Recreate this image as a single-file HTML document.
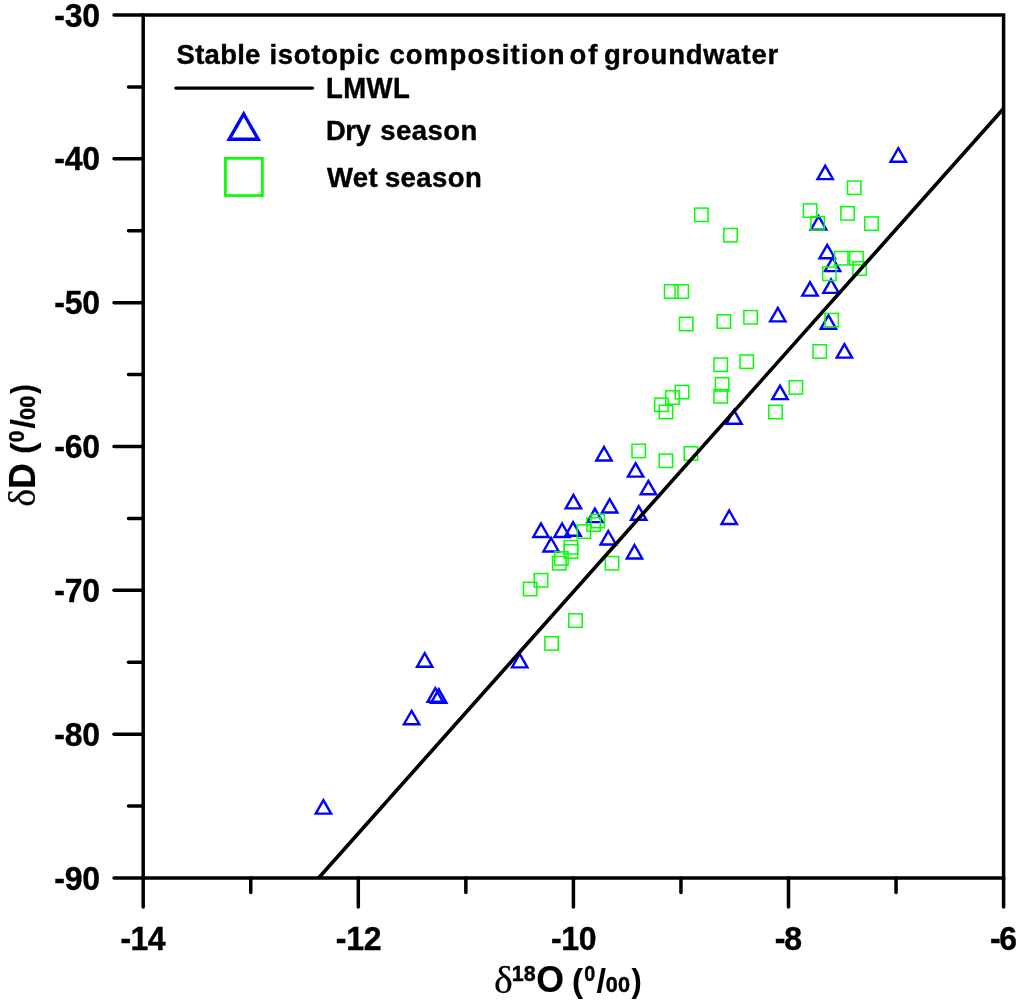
<!DOCTYPE html>
<html><head><meta charset="utf-8"><title>Stable isotopic composition of groundwater</title>
<style>
html,body{margin:0;padding:0;background:#fff;}
svg{display:block;}
text{font-family:"Liberation Sans",Arial,sans-serif;font-weight:bold;fill:#000;stroke:#000;stroke-width:0.4px;}
.ns{stroke-width:0.1px;}
.ser{font-family:"Liberation Serif","DejaVu Serif",serif;font-weight:normal;stroke-width:0.25px;}
</style></head><body>
<svg width="1024" height="1007" viewBox="0 0 1024 1007">
<rect width="1024" height="1007" fill="#fff"/>

<g stroke="#000" stroke-width="3.5" stroke-linecap="round" fill="none">
<path d="M143.2 15.0H1003.6V878.0H143.2Z" stroke-linejoin="miter"/>
<path d="M143.2 15.00H114"/>
<path d="M143.2 86.92H128.5"/>
<path d="M143.2 158.83H114"/>
<path d="M143.2 230.75H128.5"/>
<path d="M143.2 302.67H114"/>
<path d="M143.2 374.58H128.5"/>
<path d="M143.2 446.50H114"/>
<path d="M143.2 518.42H128.5"/>
<path d="M143.2 590.33H114"/>
<path d="M143.2 662.25H128.5"/>
<path d="M143.2 734.17H114"/>
<path d="M143.2 806.08H128.5"/>
<path d="M143.2 878.00H114"/>
<path d="M143.20 878.0V907"/>
<path d="M250.75 878.0V892.5"/>
<path d="M358.30 878.0V907"/>
<path d="M465.85 878.0V892.5"/>
<path d="M573.40 878.0V907"/>
<path d="M680.95 878.0V892.5"/>
<path d="M788.50 878.0V907"/>
<path d="M896.05 878.0V892.5"/>
<path d="M1003.60 878.0V907"/>
</g>
<g fill="none" stroke="#0000ff" stroke-width="2.4" stroke-linejoin="miter">
<path d="M323.4 800.1L331.1 813.6H315.7Z"/>
<path d="M411.6 710.8L419.3 724.2H403.9Z"/>
<path d="M435.3 688.2L443.0 701.8H427.6Z"/>
<path d="M438.8 689.2L446.4 702.8H431.1Z"/>
<path d="M424.7 653.2L432.4 666.8H417.0Z"/>
<path d="M519.7 653.9L527.4 667.4H512.0Z"/>
<path d="M573.4 494.9L581.1 508.4H565.7Z"/>
<path d="M609.7 499.1L617.4 512.5H602.0Z"/>
<path d="M648.4 480.8L656.1 494.2H640.7Z"/>
<path d="M638.7 506.2L646.4 519.8H631.0Z"/>
<path d="M594.9 508.6L602.6 522.1H587.2Z"/>
<path d="M541.0 523.5L548.7 537.0H533.3Z"/>
<path d="M562.1 523.5L569.8 537.0H554.4Z"/>
<path d="M573.1 522.2L580.8 535.8H565.4Z"/>
<path d="M551.1 538.0L558.8 551.5H543.4Z"/>
<path d="M608.3 531.0L616.0 544.5H600.6Z"/>
<path d="M634.5 545.0L642.2 558.5H626.8Z"/>
<path d="M729.2 510.5L736.9 524.0H721.5Z"/>
<path d="M780.0 385.6L787.7 399.1H772.3Z"/>
<path d="M734.0 410.2L741.7 423.8H726.3Z"/>
<path d="M604.0 447.0L611.7 460.5H596.3Z"/>
<path d="M635.6 463.1L643.3 476.6H627.9Z"/>
<path d="M818.6 216.1L826.3 229.6H810.9Z"/>
<path d="M827.2 244.8L834.9 258.2H819.5Z"/>
<path d="M832.6 257.6L840.3 271.1H824.9Z"/>
<path d="M831.0 279.4L838.7 292.9H823.3Z"/>
<path d="M810.0 282.1L817.7 295.6H802.3Z"/>
<path d="M777.8 307.9L785.5 321.4H770.1Z"/>
<path d="M828.4 315.2L836.1 328.8H820.7Z"/>
<path d="M844.4 344.1L852.1 357.6H836.7Z"/>
<path d="M898.3 148.2L906.0 161.7H890.6Z"/>
<path d="M825.2 165.6L832.9 179.1H817.5Z"/>
</g>
<g fill="none" stroke="#00ff00" stroke-width="1.5">
<rect x="591.0" y="514.3" width="13.4" height="13.4"/>
<rect x="587.0" y="517.8" width="13.4" height="13.4"/>
<rect x="577.2" y="524.9" width="13.4" height="13.4"/>
<rect x="564.3" y="540.6" width="13.4" height="13.4"/>
<rect x="564.3" y="544.8" width="13.4" height="13.4"/>
<rect x="554.7" y="551.8" width="13.4" height="13.4"/>
<rect x="552.6" y="556.5" width="13.4" height="13.4"/>
<rect x="605.3" y="556.5" width="13.4" height="13.4"/>
<rect x="534.3" y="573.6" width="13.4" height="13.4"/>
<rect x="523.5" y="582.3" width="13.4" height="13.4"/>
<rect x="568.8" y="613.9" width="13.4" height="13.4"/>
<rect x="544.9" y="636.7" width="13.4" height="13.4"/>
<rect x="714.0" y="358.0" width="13.4" height="13.4"/>
<rect x="740.0" y="355.0" width="13.4" height="13.4"/>
<rect x="813.0" y="344.8" width="13.4" height="13.4"/>
<rect x="715.4" y="377.7" width="13.4" height="13.4"/>
<rect x="714.0" y="389.6" width="13.4" height="13.4"/>
<rect x="789.2" y="380.7" width="13.4" height="13.4"/>
<rect x="768.8" y="405.3" width="13.4" height="13.4"/>
<rect x="675.3" y="385.4" width="13.4" height="13.4"/>
<rect x="665.7" y="390.8" width="13.4" height="13.4"/>
<rect x="654.7" y="398.1" width="13.4" height="13.4"/>
<rect x="659.2" y="405.3" width="13.4" height="13.4"/>
<rect x="632.0" y="444.2" width="13.4" height="13.4"/>
<rect x="659.2" y="454.1" width="13.4" height="13.4"/>
<rect x="684.2" y="446.8" width="13.4" height="13.4"/>
<rect x="694.7" y="208.1" width="13.4" height="13.4"/>
<rect x="723.8" y="228.5" width="13.4" height="13.4"/>
<rect x="664.5" y="284.8" width="13.4" height="13.4"/>
<rect x="675.0" y="284.8" width="13.4" height="13.4"/>
<rect x="679.5" y="317.3" width="13.4" height="13.4"/>
<rect x="717.2" y="314.8" width="13.4" height="13.4"/>
<rect x="743.9" y="310.6" width="13.4" height="13.4"/>
<rect x="803.4" y="203.9" width="13.4" height="13.4"/>
<rect x="810.9" y="216.6" width="13.4" height="13.4"/>
<rect x="840.9" y="206.7" width="13.4" height="13.4"/>
<rect x="847.5" y="181.0" width="13.4" height="13.4"/>
<rect x="864.8" y="216.9" width="13.4" height="13.4"/>
<rect x="834.6" y="251.5" width="13.4" height="13.4"/>
<rect x="849.7" y="251.5" width="13.4" height="13.4"/>
<rect x="852.9" y="261.8" width="13.4" height="13.4"/>
<rect x="822.7" y="267.1" width="13.4" height="13.4"/>
<rect x="825.0" y="313.4" width="13.4" height="13.4"/>
</g>
<path d="M318.6 878.0L1003.6 108.5" stroke="#000" stroke-width="3.6" fill="none"/>
<path d="M175.9 88.1H312.5" stroke="#000" stroke-width="3.4" stroke-linecap="round"/>
<path d="M243.7 114L258.2 139.2H229.2Z" fill="none" stroke="#0000ff" stroke-width="3.4"/>
<rect x="225.4" y="158.35" width="37" height="37.2" fill="none" stroke="#00ff00" stroke-width="2.7"/>
<g>
<text transform="translate(176.6 63.6) scale(1 1.02)" font-size="27.5" letter-spacing="0.26">Stable</text>
<text transform="translate(269.4 63.6) scale(1 1.02)" font-size="27.5" letter-spacing="0.73">isotopic</text>
<text transform="translate(389.4 63.6) scale(1 1.02)" font-size="27.5" letter-spacing="1.17">composition</text>
<text transform="translate(569.6 63.6) scale(1 1.02)" font-size="27.5" letter-spacing="1.90">of</text>
<text transform="translate(604.0 63.6) scale(1 1.02)" font-size="27.5" letter-spacing="0.78">groundwater</text>
</g>
<g>
<text transform="translate(325.9 97.8) scale(1 1.04)" font-size="27.5" letter-spacing="0.47">LMWL</text>
</g>
<g>
<text transform="translate(325.9 140.0) scale(1 1.02)" font-size="27.5" letter-spacing="-0.45">Dry</text>
<text transform="translate(380.2 140.0) scale(1 1.02)" font-size="27.5" letter-spacing="0.48">season</text>
</g>
<g>
<text transform="translate(327.0 187.0) scale(1 1.02)" font-size="27.5" letter-spacing="0.35">Wet</text>
<text transform="translate(384.9 187.0) scale(1 1.02)" font-size="27.5" letter-spacing="0.42">season</text>
</g>
<g>
<text transform="translate(54.3 26.6) scale(1 1.035)" font-size="32" letter-spacing="-0.25">-30</text>
<text transform="translate(54.3 170.4) scale(1 1.035)" font-size="32" letter-spacing="-0.25">-40</text>
<text transform="translate(54.3 314.3) scale(1 1.035)" font-size="32" letter-spacing="-0.25">-50</text>
<text transform="translate(54.3 458.1) scale(1 1.035)" font-size="32" letter-spacing="-0.25">-60</text>
<text transform="translate(54.3 601.9) scale(1 1.035)" font-size="32" letter-spacing="-0.25">-70</text>
<text transform="translate(54.3 745.8) scale(1 1.035)" font-size="32" letter-spacing="-0.25">-80</text>
<text transform="translate(54.3 889.6) scale(1 1.035)" font-size="32" letter-spacing="-0.25">-90</text>
</g>
<g>
<text transform="translate(120.5 950.0) scale(1 1.035)" font-size="32" letter-spacing="-0.65">-14</text>
<text transform="translate(335.8 950.0) scale(1 1.035)" font-size="32" letter-spacing="-0.25">-12</text>
<text transform="translate(550.9 950.0) scale(1 1.035)" font-size="32" letter-spacing="-0.25">-10</text>
<text transform="translate(774.7 950.0) scale(1 1.035)" font-size="32" letter-spacing="-1.00">-8</text>
<text transform="translate(990.0 950.0) scale(1 1.035)" font-size="32" letter-spacing="-1.40">-6</text>
</g>
<g>
<text transform="translate(511.82 981.0) scale(0.978 1.03)" font-size="22">18</text>
<text transform="translate(536.21 992.4) scale(0.992 1.05)" font-size="36" class="ns">O</text>
<text transform="translate(572.04 992.2) scale(0.978 1.0)" font-size="34" class="ns">(</text>
<text transform="translate(584.30 981.0) scale(0.900 1.03)" font-size="22">0</text>
<text x="596.6" y="992.2" font-size="34" class="ns">/</text>
<text transform="translate(605.81 992.4) scale(0.987 1.03)" font-size="22">00</text>
<text transform="translate(631.40 992.2) scale(0.900 1.0)" font-size="34" class="ns">)</text>
</g>
<text class="ser" font-size="38" transform="translate(493.95 992.8) scale(1.050 1)">δ</text>
<g transform="translate(34.5 505.7) rotate(-90)">
<text class="ser" font-size="38" transform="translate(-1.00 0) scale(1.000 1)">δ</text>
<text transform="translate(16.85 0.0) scale(0.977 1.05)" font-size="36" class="ns">D</text>
<text transform="translate(51.78 -0.2) scale(1.011 1.0)" font-size="34" class="ns">(</text>
<text transform="translate(63.55 -10.8) scale(0.945 1.03)" font-size="22">0</text>
<text x="77.1" y="-0.2" font-size="34" class="ns">/</text>
<text transform="translate(85.80 0.1) scale(1.000 1.03)" font-size="22">00</text>
<text transform="translate(111.80 -0.2) scale(0.870 1.0)" font-size="34" class="ns">)</text>
</g>
</svg></body></html>
